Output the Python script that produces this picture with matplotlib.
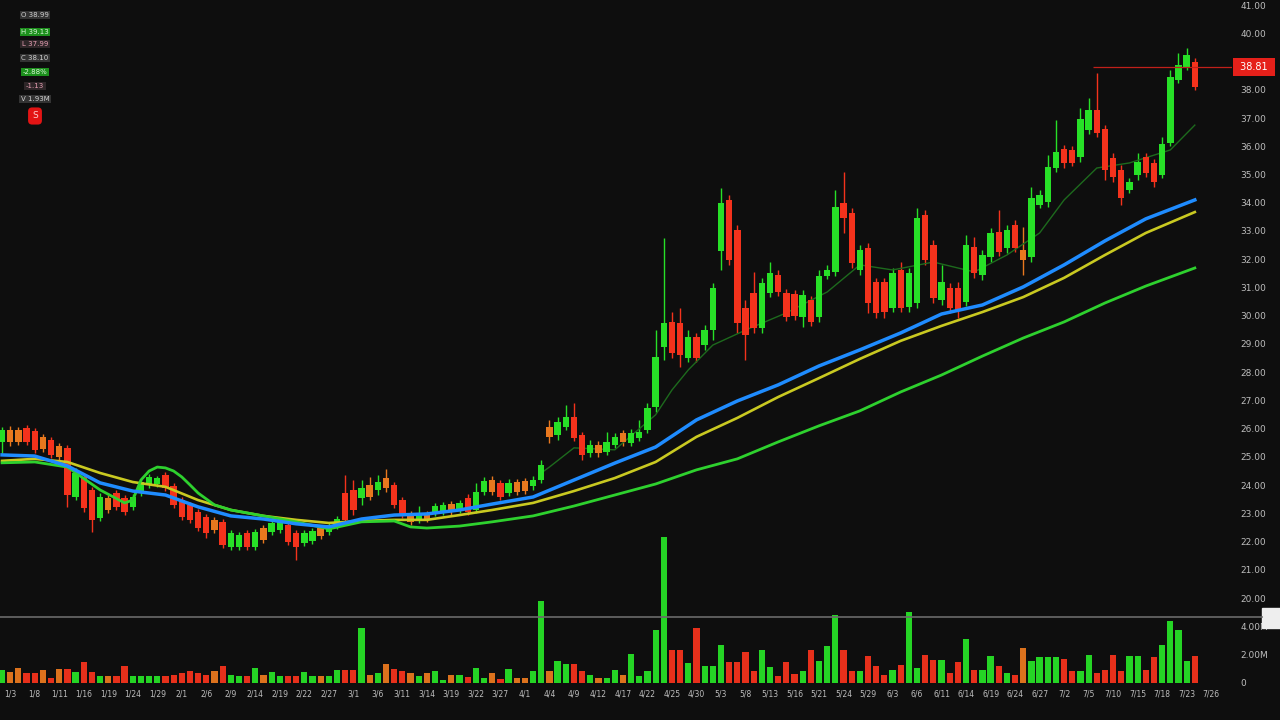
# Candlestick chart with moving averages and volume, dark theme

import matplotlib
matplotlib.use('Agg')
import matplotlib.pyplot as plt
from matplotlib.patches import Rectangle
import pandas as pd

# OHLC, one entry per candle
opens = [25.53, 25.95, 25.95, 26.02, 25.92, 25.71, 25.60, 25.39, 25.32, 23.58,
         24.29, 23.83, 22.84, 23.55, 23.72, 23.55, 23.23, 23.72, 24.01, 24.04,
         24.36, 23.97, 23.47, 23.30, 23.05, 22.87, 22.77, 22.70, 21.81, 21.81,
         22.31, 21.81, 22.48, 22.34, 22.41, 22.59, 22.31, 21.95, 22.02, 22.48,
         22.34, 22.55, 23.72, 23.83, 23.55, 24.01, 23.83, 24.25, 24.01, 23.47,
         22.98, 22.77, 22.98, 23.02, 23.05, 23.33, 23.12, 23.55, 23.12, 23.76,
         24.18, 24.08, 23.72, 24.11, 24.15, 23.97, 24.18, 26.06, 25.78, 26.06,
         26.41, 25.78, 25.14, 25.42, 25.18, 25.42, 25.85, 25.49, 25.67, 25.95,
         26.77, 28.89, 29.78, 29.74, 28.50, 29.25, 28.96,
         29.49, 32.29, 34.10, 33.04, 30.27, 30.80, 29.57, 30.80, 31.44, 30.80,
         30.77, 29.95, 30.56, 29.95, 31.41,
         31.55, 33.99, 33.64, 31.62, 32.40, 31.20, 31.20, 30.27, 31.62, 30.31,
         30.45, 33.57, 32.50, 30.56, 30.98, 30.98, 30.49, 32.43, 31.44, 32.08,
         32.97, 32.40, 33.21, 32.33, 32.08, 33.92,
         34.03, 35.23, 35.90, 35.87, 35.62, 36.58, 37.28, 36.61, 35.59, 35.16,
         34.45, 34.98, 35.62, 35.41, 34.98, 36.12, 38.35, 38.81, 38.99]
highs = [26.06, 26.09, 26.06, 26.13, 26.02, 25.81, 25.71, 25.49, 25.42, 24.61,
         24.40, 23.94, 23.72, 23.65, 23.83, 23.65, 23.69, 24.22, 24.40, 24.32,
         24.47, 24.08, 23.58, 23.40, 23.16, 22.98, 22.87, 22.80, 22.41, 22.34,
         22.41, 22.45, 22.59, 22.77, 22.87, 22.70, 22.41, 22.41, 22.48, 22.59,
         22.70, 22.91, 24.36, 24.18, 24.18, 24.29, 24.36, 24.57, 24.11, 23.58,
         23.09, 23.26, 23.09, 23.37, 23.40, 23.44, 23.47, 23.69, 24.08, 24.29,
         24.32, 24.18, 24.22, 24.22, 24.25, 24.32, 24.89, 26.31, 26.41, 26.84,
         26.91, 25.88, 25.60, 25.57, 25.88, 25.85, 25.95, 25.99, 26.31, 26.91,
         29.49, 32.75, 30.13, 30.27, 29.49, 29.39, 29.67,
         31.16, 34.52, 34.27, 33.21, 30.56, 31.55, 31.34, 31.90, 31.62, 30.95,
         30.91, 30.91, 30.70, 31.62, 31.80,
         34.45, 35.09, 33.81, 32.50, 32.57, 31.34, 31.34, 31.69, 31.90, 31.69,
         33.81, 33.74, 32.68, 31.80, 31.16, 31.20, 32.86, 32.79, 32.33, 33.11,
         33.74, 33.21, 33.39, 33.14, 34.56, 34.45,
         35.69, 36.93, 36.05, 36.01, 37.36, 37.71, 38.60, 36.75, 35.76, 35.34,
         34.88, 35.76, 35.76, 35.55, 36.33, 38.70, 39.30, 39.48, 39.13]
lows = [25.14, 25.39, 25.42, 25.42, 25.14, 25.18, 24.96, 24.89, 23.23, 23.47,
        23.05, 22.34, 22.73, 23.02, 23.12, 22.94, 23.12, 23.62, 23.90, 23.94,
        23.79, 23.19, 22.77, 22.66, 22.38, 22.13, 22.31, 21.77, 21.70, 21.70,
        21.70, 21.70, 21.95, 22.23, 22.31, 21.88, 21.35, 21.84, 21.91, 22.09,
        22.23, 22.45, 22.66, 22.94, 23.30, 23.47, 23.65, 23.76, 23.19, 22.84,
        22.59, 22.66, 22.70, 22.91, 22.94, 22.94, 23.02, 22.94, 23.02, 23.65,
        23.65, 23.47, 23.62, 23.65, 23.69, 23.83, 24.08, 25.49, 25.60, 25.95,
        25.57, 24.89, 25.00, 25.00, 25.07, 25.32, 25.39, 25.39, 25.57, 25.85,
        26.59, 28.43, 28.50, 28.18, 28.36, 28.36, 28.79,
        29.14, 31.62, 31.80, 29.39, 28.43, 29.39, 29.39, 30.66, 30.70, 29.81,
        29.85, 29.60, 29.64, 29.78, 31.30,
        31.41, 32.93, 31.69, 31.44, 30.10, 29.92, 29.92, 30.13, 30.13, 30.13,
        30.27, 31.80, 30.45, 30.38, 30.10, 29.92, 30.34, 31.34, 31.27, 31.90,
        32.12, 32.22, 32.26, 31.44, 31.90, 33.81,
        33.85, 35.09, 35.23, 35.30, 35.44, 36.43, 36.33, 34.81, 34.74, 33.92,
        34.35, 34.81, 34.91, 34.56, 34.88, 36.01, 38.24, 38.70, 37.99]
closes = [25.95, 25.53, 25.53, 25.53, 25.25, 25.28, 25.07, 25.00, 23.65, 24.43,
          23.19, 22.77, 23.58, 23.12, 23.23, 23.05, 23.58, 24.11, 24.29, 24.25,
          23.90, 23.30, 22.87, 22.77, 22.48, 22.31, 22.41, 21.88, 22.31, 22.23,
          21.81, 22.34, 22.06, 22.66, 22.77, 21.99, 21.81, 22.31, 22.38, 22.20,
          22.59, 22.80, 22.77, 23.12, 23.90, 23.58, 24.11, 23.90, 23.30, 22.94,
          22.70, 22.94, 22.80, 23.26, 23.30, 23.05, 23.37, 23.05, 23.76, 24.15,
          23.76, 23.58, 24.08, 23.76, 23.79, 24.18, 24.71, 25.71, 26.24, 26.41,
          25.67, 25.07, 25.42, 25.14, 25.53, 25.71, 25.53, 25.85, 25.88, 26.73,
          28.54, 29.74, 28.68, 28.61, 29.25, 28.50, 29.49,
          30.98, 33.99, 31.97, 29.74, 29.32, 29.57, 31.16, 31.51, 30.84, 29.95,
          29.99, 30.73, 29.78, 31.41, 31.62,
          33.85, 33.46, 31.87, 32.33, 30.45, 30.10, 30.13, 31.51, 30.27, 31.51,
          33.46, 31.97, 30.63, 31.20, 30.27, 30.20, 32.50, 31.51, 32.15, 32.93,
          32.26, 33.04, 32.40, 31.97, 34.17, 34.27,
          35.27, 35.80, 35.41, 35.41, 36.97, 37.28, 36.47, 35.16, 34.91, 34.17,
          34.73, 35.44, 35.05, 34.73, 36.08, 38.45, 38.88, 39.23, 38.10]

# volume in millions, one per candle
volumes = [0.93, 0.79, 1.07, 0.71, 0.71, 0.93, 0.36, 1.00, 1.00, 0.79,
           1.50, 0.79, 0.50, 0.50, 0.50, 1.21, 0.50, 0.50, 0.50, 0.50,
           0.50, 0.57, 0.71, 0.86, 0.71, 0.57, 0.86, 1.21, 0.57, 0.50,
           0.50, 1.07, 0.57, 0.79, 0.50, 0.50, 0.50, 0.79, 0.50, 0.50,
           0.50, 0.93, 0.93, 0.93, 3.93, 0.57, 0.71, 1.36, 1.00, 0.86,
           0.71, 0.50, 0.71, 0.86, 0.21, 0.57, 0.57, 0.43, 1.07, 0.36,
           0.71, 0.29, 1.00, 0.36, 0.36, 0.86, 5.86, 0.86, 1.57, 1.36,
           1.36, 0.86, 0.57, 0.36, 0.36, 0.93, 0.57, 2.07, 0.50, 0.86,
           3.79, 10.43, 2.36, 2.36, 1.43, 3.93, 1.21, 1.21, 2.71, 1.50,
           1.50, 2.21, 0.86, 2.36, 1.14, 0.50, 1.50, 0.64, 0.86, 2.36,
           1.57, 2.64, 4.86, 2.36, 0.86, 0.86, 1.93, 1.21, 0.57, 0.93,
           1.29, 5.07, 1.07, 2.00, 1.64, 1.64, 0.71, 1.50, 3.14, 0.93,
           0.93, 1.93, 1.21, 0.71, 0.57, 2.50, 1.57, 1.86, 1.86, 1.86,
           1.71, 0.86, 0.86, 2.00, 0.71, 0.93, 2.00, 0.86, 1.93, 1.93,
           0.93, 1.86, 2.71, 4.43, 3.79, 1.57, 1.93]

# moving averages, read at a few candle indices
ma_idx = [0, 4, 8, 12, 16, 20, 24, 28, 32, 36, 40, 44, 48, 52, 56, 60, 65,
          70, 75, 80, 85, 90, 95, 100, 105, 110, 115, 120, 125, 130, 135, 140, 146]
ma_blue = [25.07, 25.03, 24.68, 24.08, 23.79, 23.65, 23.23, 22.91, 22.80, 22.63,
           22.52, 22.80, 22.94, 22.98, 23.12, 23.33, 23.58, 24.18, 24.78, 25.35,
           26.31, 26.98, 27.55, 28.22, 28.79, 29.39, 30.06, 30.38, 31.02, 31.80,
           32.65, 33.43, 34.10]
ma_yellow = [24.86, 24.93, 24.82, 24.43, 24.11, 23.94, 23.47, 23.12, 22.91, 22.77,
             22.66, 22.73, 22.77, 22.77, 22.94, 23.12, 23.37, 23.79, 24.25, 24.82,
             25.71, 26.38, 27.12, 27.79, 28.47, 29.11, 29.64, 30.13, 30.66, 31.34,
             32.15, 32.93, 33.67]
ma_green_idx = [0, 4, 8, 12, 15, 16, 17, 18, 19, 20, 21, 22, 23, 24, 25, 26, 28,
                32, 36, 40, 44, 48, 50, 52, 56, 60, 65, 70, 75, 80, 85, 90, 95,
                100, 105, 110, 115, 120, 125, 130, 135, 140, 146]
ma_green = [24.79, 24.82, 24.64, 23.83, 23.37, 23.47, 24.18, 24.50, 24.64, 24.61,
            24.50, 24.29, 24.01, 23.72, 23.51, 23.30, 23.12, 22.91, 22.70, 22.45,
            22.70, 22.73, 22.52, 22.48, 22.55, 22.70, 22.91, 23.26, 23.65, 24.04,
            24.54, 24.93, 25.53, 26.10, 26.63, 27.30, 27.90, 28.57, 29.21, 29.78,
            30.45, 31.05, 31.69]
ma_fast_idx = [66, 67, 70, 75, 80, 82, 84, 87, 91, 96, 101, 105, 109, 114, 119,
               123, 127, 130, 134, 138, 143, 146]
ma_fast = [24.43, 24.64, 25.32, 25.25, 26.49, 27.37, 28.08, 28.96, 29.49, 30.10,
           30.84, 31.80, 31.62, 31.90, 31.55, 32.15, 32.93, 34.10, 35.23, 35.41,
           35.87, 36.75]

last_price = 38.81
price_ticks = list(range(20, 42))
vol_ticks = [0, 2, 4]
dates = pd.bdate_range('2024-01-02', periods=151)

BG = '#0e0e0e'
UP = '#27e027'
DOWN = '#f4321c'
FLAT = '#e8781e'
TXT = '#bdbdbd'


def candle_color(o, c):
    if c >= o:
        return UP
    if o - c < 0.45:
        return FLAT
    return DOWN


n = len(opens)
xs = list(range(n))
colors = [candle_color(o, c) for o, c in zip(opens, closes)]
x_left, x_right = -0.25, 150.55

fig = plt.figure(figsize=(12.8, 7.2), dpi=100, facecolor=BG)
W = 1232 / 1280

# volume panel (spans full height so tall bars can reach into the price area)
ax_vol = fig.add_axes([0, 1 - 683 / 720, W, 683 / 720])
ax_vol.set_facecolor(BG)
ax_vol.bar(xs, volumes, width=0.76, color=colors, linewidth=0, alpha=0.95)
ax_vol.set_xlim(x_left, x_right)
ax_vol.set_ylim(0, 683 / 14)
ax_vol.yaxis.tick_right()
ax_vol.set_yticks(vol_ticks)
ax_vol.set_yticklabels(['0' if v == 0 else f'{v:.2f}M' for v in vol_ticks])
ax_vol.set_xticks(range(1, 151, 3))
ax_vol.set_xticklabels([f'{d.month}/{d.day}' for d in dates[1::3]])
ax_vol.tick_params(length=0, labelsize=5.5, colors=TXT)
ax_vol.tick_params(axis='x', pad=5)
ax_vol.tick_params(axis='y', pad=6, labelsize=6.5)
for s in ax_vol.spines.values():
    s.set_visible(False)

# price panel
ax = fig.add_axes([0, 1 - 617 / 720, W, 617 / 720])
ax.set_facecolor('none')
bottoms = [min(o, c) for o, c in zip(opens, closes)]
heights = [max(abs(c - o), 0.05) for o, c in zip(opens, closes)]
ax.vlines(xs, lows, highs, colors=colors, linewidth=1.0, zorder=2)
ax.bar(xs, heights, bottom=bottoms, width=0.78, color=colors, linewidth=0, zorder=3)

ax.plot(ma_fast_idx, ma_fast, color='#1d6a1d', lw=1.0, zorder=2.5)
ax.plot(ma_idx, ma_yellow, color='#c9c921', lw=1.9, zorder=4)
ax.plot(ma_idx, ma_blue, color='#1f8cff', lw=2.5, zorder=5)
ax.plot(ma_green_idx, ma_green, color='#2ed12e', lw=2.0, zorder=4.5)

# last price line and tag
ax.hlines(last_price, 133.5, x_right, color='#c0201a', lw=0.9, zorder=3)
ax.text(1.004, last_price, f' {last_price:.2f} ', transform=ax.get_yaxis_transform(),
        ha='left', va='center', fontsize=7, color='white', zorder=10,
        bbox=dict(boxstyle='square,pad=0.45', fc='#e5201a', ec='none'))

ax.set_xlim(x_left, x_right)
ax.set_ylim(19.33, 41.18)
ax.yaxis.tick_right()
ax.set_yticks(price_ticks)
ax.set_yticklabels([f'{p:.2f}' for p in price_ticks])
ax.tick_params(axis='y', length=0, pad=6, labelsize=6.5, colors=TXT)
ax.tick_params(axis='x', bottom=False, labelbottom=False)
for s in ax.spines.values():
    s.set_visible(False)

# separator between price and volume
fig.add_artist(plt.Line2D([0, 0.986], [1 - 617 / 720] * 2, transform=fig.transFigure,
                          color='#6a6a6a', lw=1.2))
fig.patches.append(Rectangle((1262 / 1280, 1 - 628 / 720), 18 / 1280, 20 / 720,
                             transform=fig.transFigure, color='#eeeeee'))

# OHLC readout, top left
chg = closes[-1] - closes[-2]
legend_rows = [
    (15, f'O {opens[-1]:.2f}', '#d0d0d0', '#333333'),
    (32, f'H {highs[-1]:.2f}', '#d8f5d8', '#1c8f1c'),
    (44, f'L {lows[-1]:.2f}', '#e8a0b4', '#2e2628'),
    (58, f'C {closes[-1]:.2f}', '#d0d0d0', '#333333'),
    (72, f'{chg / closes[-2] * 100:+.2f}%', '#d8f5d8', '#1c8f1c'),
    (86, f'{chg:+.2f}', '#e8a0b4', '#2e2628'),
    (99, f'V {volumes[-1]:.2f}M', '#d0d0d0', '#333333'),
]
for y, label, fc, bg in legend_rows:
    fig.text(35 / 1280, 1 - y / 720, label, ha='center', va='center', fontsize=5,
             color=fc, bbox=dict(boxstyle='square,pad=0.2', fc=bg, ec='none'))
fig.text(35 / 1280, 1 - 116 / 720, 'S', ha='center', va='center', fontsize=6.5,
         color='#ffd0d0', bbox=dict(boxstyle='round,pad=0.45', fc='#e31414', ec='none'))

fig.savefig('out.png', dpi=100, facecolor=BG)
